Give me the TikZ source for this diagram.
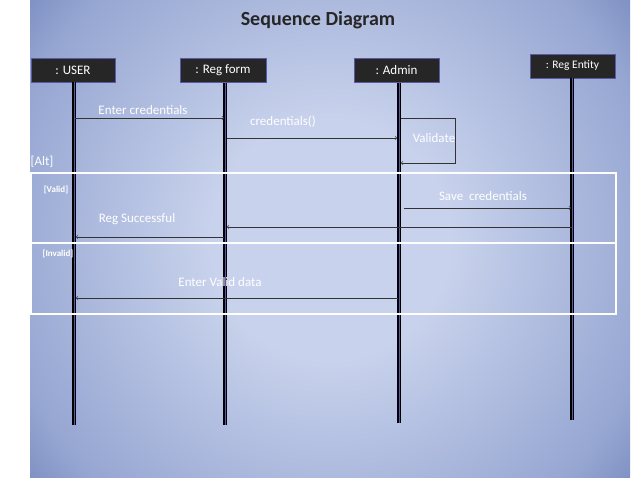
\documentclass[tikz,border=0pt]{standalone}
\usepackage{fontspec}
\setmainfont{Carlito}
\definecolor{bgA}{RGB}{200,210,236}
\definecolor{bgB}{RGB}{150,166,210}
\definecolor{bgC}{RGB}{70,95,160}
\definecolor{bgD}{RGB}{25,50,125}
\pgfdeclareradialshading{bgshade}{\pgfpoint{0bp}{0bp}}{color(0bp)=(bgA); color(10bp)=(bgA); color(28bp)=(bgB); color(42bp)=(bgC); color(55bp)=(bgD); color(100bp)=(bgD)}
\begin{document}
\begin{tikzpicture}[x=1pt,y=-1pt,
  obj/.style={draw=blue!30!gray,line width=0.8pt,fill=black!85,text=white,font=\fontsize{13}{15}\selectfont,minimum height=24pt,inner sep=2pt},
  msg/.style={draw=black!80,line width=0.6pt,-to},
  lbl/.style={text=white,font=\fontsize{13}{15}\selectfont},
  grd/.style={text=white,font=\bfseries\fontsize{9}{11}\selectfont}]
\useasboundingbox (0,0) rectangle (638,478);
\begin{scope}
\clip (0,0) rectangle (638,478);
\shade[shading=bgshade] (330-300,240-300) rectangle (330+300,240+300);
\end{scope}
\node[text=black!85,font=\bfseries\fontsize{20}{24}\selectfont] (title) at (318,20) {Sequence Diagram};
\node[obj,minimum width=84pt] (u) at (73,70) {: USER};
\node[obj,minimum width=86pt] (f) at (223,70.5) {: Reg form};
\node[obj,minimum width=85pt] (a) at (396.5,70.5) {: Admin};
\node[obj,minimum width=85pt,minimum height=24pt,font=\fontsize{11.5}{13}\selectfont] (e) at (572.5,66) {: Reg Entity};
\coordinate (ue) at (74,425); \coordinate (fe) at (225,425);
\coordinate (ae) at (399,423); \coordinate (ee) at (572,420);
\foreach \s/\t in {u/ue,f/fe,a/ae,e/ee}{
  \draw[black,line width=3.2pt] (\s.south -| \t) -- (\t);
  \draw[blue!30!gray,line width=0.8pt] (\s.south -| \t) -- (\t);}
% frame
\node[draw=white,line width=1.2pt,minimum width=585pt,minimum height=141pt,inner sep=0pt] (alt) at (323.5,243.5) {};
\draw[white,line width=1.2pt] (alt.west |- 0,243) coordinate (dl) -- (alt.east |- 0,243) coordinate (dr);
\node[lbl,anchor=west] (altl) at (27,162) {[Alt]};
\node[grd] (v) at (56,190) {[Valid]};
\node[grd] (i) at (58,254) {[Invalid]};
% messages
\coordinate (m1s) at (75,118); \coordinate (m1e) at (224,118);
\draw[msg] (m1s) -- (m1e);
\node[lbl] (l1) at (143,110) {Enter credentials};
\coordinate (m2s) at (227,138); \coordinate (m2e) at (397,138);
\draw[msg] (m2s) -- (m2e);
\node[lbl] (l2) at (283,122) {credentials()};
\coordinate (v1) at (401,118); \coordinate (v2) at (455,118); \coordinate (v3) at (455,163); \coordinate (v4) at (401,163);
\draw[msg] (v1) -- (v2) -- (v3) -- (v4);
\node[lbl] (l3) at (434,138) {Validate};
\coordinate (m4s) at (404,208); \coordinate (m4e) at (571,208);
\draw[msg] (m4s) -- (m4e);
\node[lbl] (l4) at (483,196) {Save\ \ credentials};
\coordinate (m5s) at (572,227); \coordinate (m5e) at (227,227);
\draw[msg] (m5s) -- (m5e);
\coordinate (m6s) at (224,237); \coordinate (m6e) at (76,237);
\draw[msg] (m6s) -- (m6e);
\node[lbl] (l6) at (137,219) {Reg Successful};
\coordinate (m7s) at (398,298); \coordinate (m7e) at (76,298);
\draw[msg] (m7s) -- (m7e);
\node[lbl] (l7) at (220,282) {Enter Valid data};
\end{tikzpicture}
\end{document}
